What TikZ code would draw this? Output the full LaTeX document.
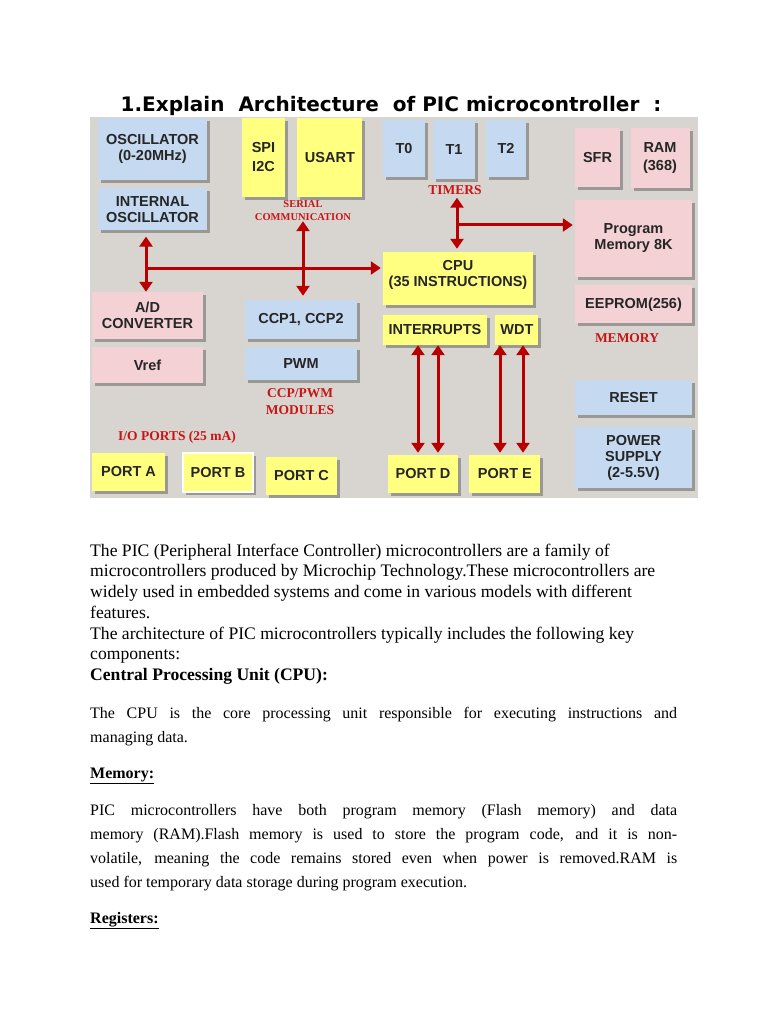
\documentclass[tikz,border=0pt]{standalone}
\usepackage{fontspec}
\setmainfont{Liberation Serif}
\newfontfamily\boxfont{Liberation Sans}
\newfontfamily\headfont{DejaVu Sans}
\usetikzlibrary{arrows.meta,positioning,shadows}
\definecolor{panelgray}{RGB}{216,213,208}
\definecolor{boxblue}{RGB}{197,217,241}
\definecolor{boxyellow}{RGB}{255,255,128}
\definecolor{boxpink}{RGB}{243,209,213}
\definecolor{boxtext}{RGB}{38,38,38}
\definecolor{labred}{RGB}{200,20,20}
\definecolor{busred}{RGB}{185,0,0}

\begin{document}
\begin{tikzpicture}[x=1pt,y=-1pt,>={Triangle[length=10pt,width=13pt]},
  box/.style={inner sep=0pt,align=center,text=boxtext,
    font=\boxfont\bfseries\fontsize{14.5}{16}\selectfont,
    drop shadow={shadow xshift=3pt,shadow yshift=-3pt,fill=black!60,opacity=.55}},
  wh/.style 2 args={minimum width=#1pt,minimum height=#2pt},
  bbox/.style={box,fill=boxblue},
  ybox/.style={box,fill=boxyellow},
  pbox/.style={box,fill=boxpink},
  lab/.style={inner sep=0pt,align=center,text=labred,font=\bfseries\fontsize{13.5}{17}\selectfont},
  bus/.style={draw=busred,line width=3pt},
  line/.style={anchor=base west,inner sep=0pt,font=\fontsize{16}{18}\selectfont},
  bigline/.style={line,font=\fontsize{17.6}{19}\selectfont}]
\useasboundingbox[fill=white] (0,0) rectangle (768,1024);
\node[inner sep=0pt,anchor=base,font=\headfont\bfseries\fontsize{20}{22}\selectfont] (title) at (391,112)
  {1.Explain\ \ Architecture\ \ of PIC microcontroller\ \ :};
\fill[panelgray] (90,117) rectangle (698,498);
% oscillators
\node[bbox,wh={109}{62}] (osc) at (152.5,149) {OSCILLATOR\\(0-20MHz)};
\node[bbox,wh={109}{42},below=8pt of osc] (intosc) {INTERNAL\\OSCILLATOR};
% serial
\node[ybox,wh={43}{79},font=\boxfont\bfseries\fontsize{14.5}{19}\selectfont] (spi) at (263.5,157.5) {SPI\\I2C};
\node[ybox,wh={65}{79},right=12pt of spi] (usart) {USART};
\node[lab,font=\bfseries\fontsize{10.5}{13}\selectfont] (sercom) at (303,211) {SERIAL\\COMMUNICATION};
% timers
\node[bbox,wh={42}{57}] (t0) at (404,148.5) {T0};
\node[bbox,wh={42}{59}] (t1) at (454,149.5) {T1};
\node[bbox,wh={40}{57}] (t2) at (506,148.5) {T2};
\node[lab] (timers) at (455,190) {TIMERS};
% memory
\node[pbox,wh={45}{59}] (sfr) at (597.5,157.5) {SFR};
\node[pbox,wh={59}{60},font=\boxfont\bfseries\fontsize{14.5}{17.5}\selectfont] (ram) at (660,158) {RAM\\(368)};
\node[pbox,wh={117}{77}] (prog) at (633.5,238.5) {Program\\Memory 8K};
\node[pbox,wh={117}{38},below=8pt of prog] (eeprom) {EEPROM(256)};
\node[lab] (memlab) at (627,338) {MEMORY};
% cpu
\node[ybox,wh={150}{53},text depth=11pt] (cpu) at (458,278.5) {CPU\\(35 INSTRUCTIONS)};
\node[ybox,wh={104}{30}] (intr) at (435,330) {INTERRUPTS};
\node[ybox,wh={43}{30},right=8pt of intr] (wdt) {WDT};
% analog, ccp
\node[pbox,wh={111}{47}] (ad) at (147.5,315.5) {A/D\\CONVERTER};
\node[pbox,wh={111}{36},below=8pt of ad] (vref) {Vref};
\node[bbox,wh={112}{39}] (ccp) at (301,319.5) {CCP1, CCP2};
\node[bbox,wh={112}{33},below=8pt of ccp] (pwm) {PWM};
\node[lab] (ccplab) at (300,402) {CCP/PWM\\MODULES};
% reset, power
\node[bbox,wh={117}{35}] (reset) at (633.5,397.5) {RESET};
\node[bbox,wh={117}{61},below=12pt of reset] (power) {POWER\\SUPPLY\\(2-5.5V)};
% ports
\node[lab] (iolab) at (177,437) {I/O PORTS (25 mA)};
\node[ybox,wh={73}{38}] (porta) at (128.5,472) {PORT A};
\node[ybox,wh={70}{39},draw=white,line width=1.5pt] (portb) at (218,472.5) {PORT B};
\node[ybox,wh={71}{38}] (portc) at (301.5,476) {PORT C};
\node[ybox,wh={70}{38}] (portd) at (423,474) {PORT D};
\node[ybox,wh={71}{38},right=11pt of portd] (porte) {PORT E};
% buses
\coordinate (lbus) at (146,268);
\coordinate (tbus) at (457,225);
\coordinate (d1) at (418,0);
\coordinate (d2) at (438,0);
\coordinate (e1) at (500,0);
\coordinate (e2) at (523,0);
\draw[bus,<->,shorten <=6pt] (intosc.south -| lbus) -- (ad.north -| lbus);
\draw[bus,->,shorten >=2pt] (lbus) -- (cpu.west |- lbus);
\draw[bus,<->,shorten >=4pt] (sercom.south) -- (sercom.south |- ccp.north);
\draw[bus,<->,shorten <=3pt,shorten >=3pt] (timers.south -| tbus) -- (cpu.north -| tbus);
\draw[bus,->,shorten >=2pt] (tbus) -- (prog.west |- tbus);
\draw[bus,<->,shorten >=2pt] (intr.south -| d1) -- (portd.north -| d1);
\draw[bus,<->,shorten >=2pt] (intr.south -| d2) -- (portd.north -| d2);
\draw[bus,<->,shorten >=2pt] (wdt.south -| e1) -- (porte.north -| e1);
\draw[bus,<->,shorten >=2pt] (wdt.south -| e2) -- (porte.north -| e2);
% text below
\node[bigline] (a1) at (90,556) {The PIC (Peripheral Interface Controller) microcontrollers are a family of};
\node[bigline] (a2) at (90,576) {microcontrollers produced by Microchip Technology.These microcontrollers are};
\node[bigline] (a3) at (90,597) {widely used in embedded systems and come in various models with different};
\node[bigline] (a4) at (90,618) {features.};
\node[bigline] (a5) at (90,639) {The architecture of PIC microcontrollers typically includes the following key};
\node[bigline] (a6) at (90,659) {components:};
\node[bigline] (a7) at (90,680) {\textbf{Central Processing Unit (CPU):}};
\node[line] (b1) at (90,718) {\makebox[587pt][s]{The CPU is the core processing unit responsible for executing instructions and}};
\node[line] (b2) at (90,742) {managing data.};
\node[line] (b3) at (90,778) {\textbf{\underline{Memory:}}};
\node[line] (b4) at (90,815) {\makebox[587pt][s]{PIC microcontrollers have both program memory (Flash memory) and data}};
\node[line] (b5) at (90,839) {\makebox[587pt][s]{memory (RAM).Flash memory is used to store the program code, and it is non-}};
\node[line] (b6) at (90,863) {\makebox[587pt][s]{volatile, meaning the code remains stored even when power is removed.RAM is}};
\node[line] (b7) at (90,887) {used for temporary data storage during program execution.};
\node[line] (b8) at (90,923) {\textbf{\underline{Registers:}}};
\end{tikzpicture}
\end{document}
